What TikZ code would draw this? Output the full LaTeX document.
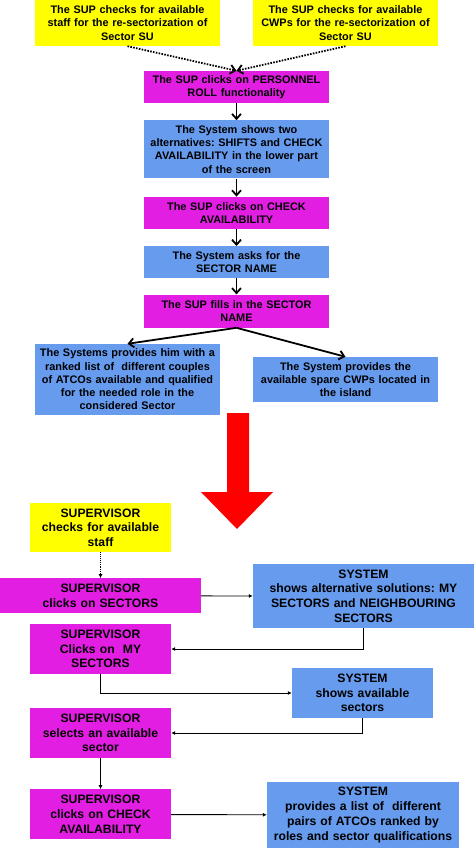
\documentclass[tikz,border=0pt]{standalone}
\usepackage{fontspec}
\setmainfont{Liberation Sans}
\usetikzlibrary{positioning, arrows.meta}
\definecolor{supmag}{RGB}{226,30,226}
\definecolor{sysblue}{RGB}{102,155,238}
\definecolor{chkyel}{RGB}{255,255,0}
\frenchspacing
\begin{document}
\begin{tikzpicture}[x=1pt, y=1pt,
  box/.style = {rectangle, inner sep=0pt, align=center, text width=185pt, minimum height=32pt, font=\bfseries\fontsize{10.9}{13.3}\selectfont},
  big/.style = {box, font=\bfseries\fontsize{12.2}{14.7}\selectfont},
  sup/.style = {fill=supmag}, sys/.style = {fill=sysblue}, chk/.style = {fill=chkyel},
  flow/.style = {line width=1.8pt, -{Straight Barb[length=5pt,width=9pt]}},
  dots/.style = {flow, dash pattern=on 1.6pt off 1.3pt},
  link/.style = {line width=0.9pt, -{Latex[length=4pt,width=4pt]}}]
\useasboundingbox (0,0) rectangle (474,-848);

% old procedure
\node[box, chk, minimum height=46pt] (y1) at (127.5,-23) {The SUP checks for available\\staff for the re-sectorization of\\Sector SU};
\node[box, chk, minimum height=46pt] (y2) at (345.5,-23) {The SUP checks for available\\CWPs for the re-sectorization of\\Sector SU};
\node[box, sup] (p1) at (236.5,-87) {The SUP clicks on PERSONNEL\\ROLL functionality};
\node[box, sys, minimum height=58pt] (s1) [below=17pt of p1] {The System shows two\\alternatives: SHIFTS and CHECK\\AVAILABILITY in the lower part\\of the screen};
\node[box, sup] (p2) [below=18pt of s1] {The SUP clicks on CHECK\\AVAILABILITY};
\node[box, sys] (s2) [below=17pt of p2] {The System asks for the\\SECTOR NAME};
\node[box, sup, minimum height=33pt] (p3) [below=16pt of s2] {The SUP fills in the SECTOR\\NAME};
\node[box, sys, minimum height=71pt] (s3) at (127.5,-379.5) {The Systems provides him with a\\ranked list of \ different couples\\of ATCOs available and qualified\\for the needed role in the\\considered Sector};
\node[box, sys, minimum height=45pt] (s4) at (345.5,-379.5) {The System provides the\\available spare CWPs located in\\the island};

\draw[dots] (y1.south) -- (p1.north);
\draw[dots] (y2.south) -- (p1.north);
\draw[flow] (p1) -- (s1);
\draw[flow] (s1) -- (p2);
\draw[flow] (p2) -- (s2);
\draw[flow] (s2) -- (p3);
\draw[flow] (p3.south) -- (s3.north);
\draw[flow] (p3.south) -- (s4.north);

% big arrow
\fill[red] (227,-413) -- (249,-413) -- (249,-492) -- (273,-492) -- (237,-529) -- (201,-492) -- (227,-492) -- cycle;

% new procedure
\node[big, chk, text width=141pt, minimum height=49pt] (y3) at (100.5,-527.5) {SUPERVISOR\\checks for available\\staff};
\node[big, sup, text width=201pt, minimum height=35pt] (m1) [below=26pt of y3] {SUPERVISOR\\clicks on SECTORS};
\node[big, sys, text width=221pt, minimum height=64pt] (b1) at (363.5,-596) {SYSTEM\\shows alternative solutions: MY\\SECTORS and NEIGHBOURING\\SECTORS};
\node[big, sup, text width=141pt, minimum height=50pt] (m2) at (100.5,-649) {SUPERVISOR\\Clicks on \ MY\\SECTORS};
\node[big, sys, text width=141pt, minimum height=50pt] (b2) at (362.5,-693) {SYSTEM\\shows available\\sectors};
\node[big, sup, text width=141pt, minimum height=50pt] (m3) at (100.5,-733) {SUPERVISOR\\selects an available\\sector};
\node[big, sup, text width=141pt, minimum height=50pt] (m4) [below=31pt of m3] {SUPERVISOR\\clicks on CHECK\\AVAILABILITY};
\node[big, sys, text width=192pt, minimum height=66pt] (b3) at (363,-815) {SYSTEM\\provides a list of \ different\\pairs of ATCOs ranked by\\roles and sector qualifications};

\draw[link, densely dotted] (y3) -- (m1);
\draw[link] (m1) -- (b1);
\draw[link] (b1.south) |- (m2.east);
\draw[link] (m2.south) |- (b2.west);
\draw[link] (b2.south) |- (m3.east);
\draw[link] (m3) -- (m4);
\draw[link] (m4) -- (b3);
\end{tikzpicture}
\end{document}
